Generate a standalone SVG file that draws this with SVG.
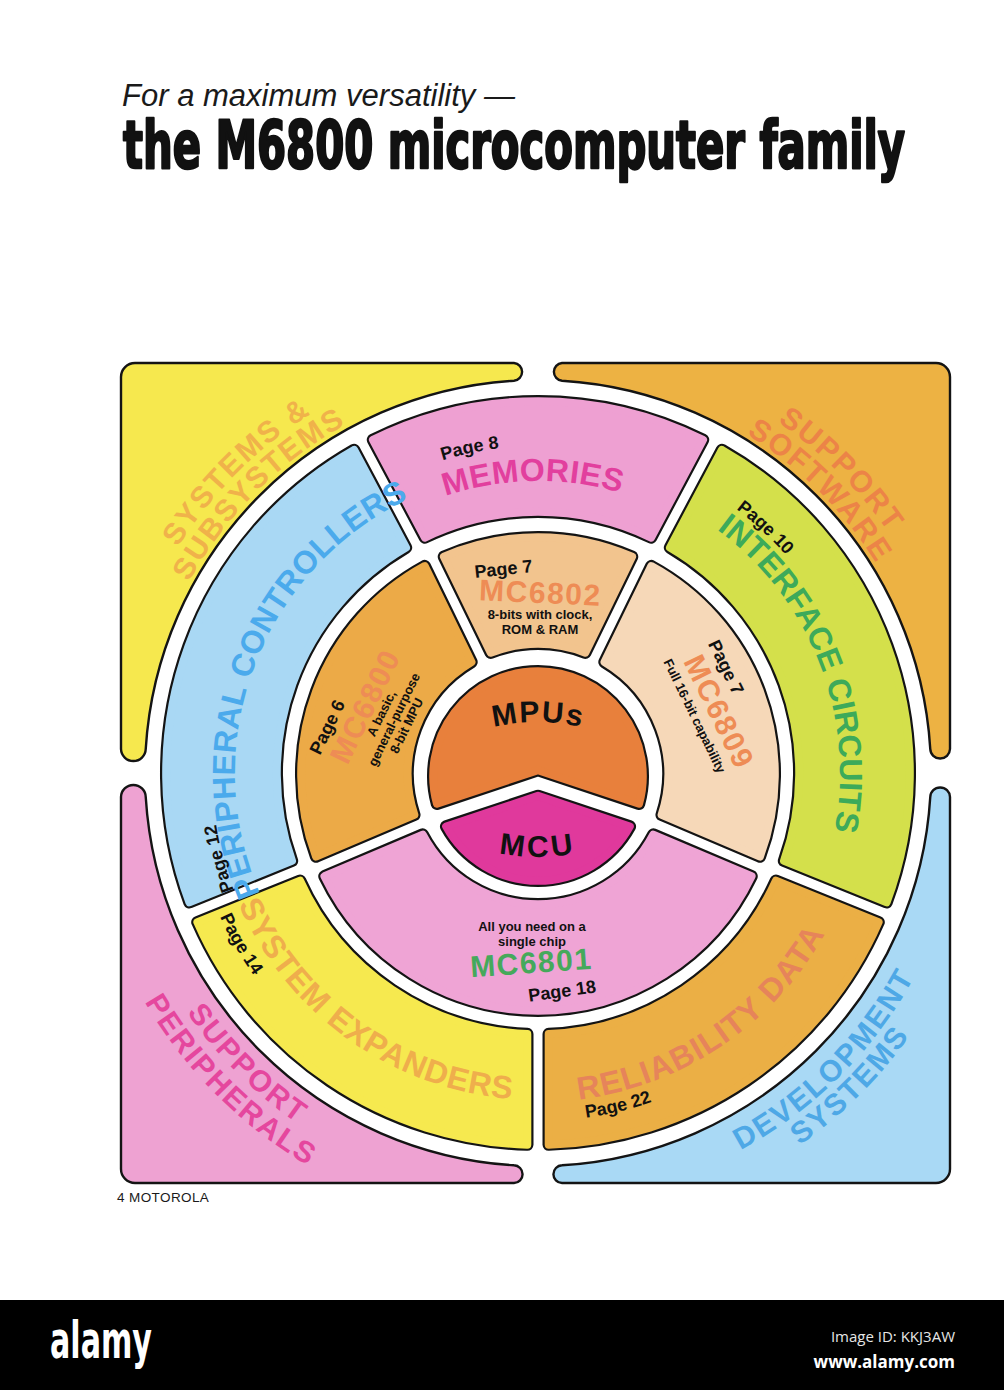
<svg xmlns="http://www.w3.org/2000/svg" width="1004" height="1390" viewBox="0 0 1004 1390">
<style>
text{font-family:"Liberation Sans",Arial,Helvetica,sans-serif}
.o{fill:#141414;stroke:#141414;stroke-width:12.4;stroke-linejoin:round}
.f{stroke-width:8;stroke-linejoin:round}
.c{stroke:#141414;stroke-width:2.4;stroke-linejoin:round}
.rl{font-weight:bold;font-size:32px}
.cl{font-weight:bold;font-size:30px;letter-spacing:2px}
.pg{font-weight:bold;font-size:18px;fill:#111}
.sm{font-weight:bold;font-size:13px;fill:#111}
.mc{font-weight:bold;font-size:30px;letter-spacing:1.5px;fill:#EE8C55}
.ctr{font-weight:bold;font-size:30px;fill:#111}
</style>
<defs>
<path id="tMem" d="M 346.4,552.6 A 292 292 0 0 1 721.8,546.1"/>
<path id="tPg8" d="M 323.5,526.2 A 327 327 0 0 1 743.8,518.9"/>
<path id="tInt" d="M 583.7,474.5 A 302 302 0 0 1 773.7,961.8"/>
<path id="tPg10" d="M 595.3,448 A 330 330 0 0 1 790.8,985.1"/>
<path id="tPer" d="M 304.5,966.1 A 303 303 0 0 1 487.5,474.2"/>
<path id="tPg12" d="M 288.3,982.6 A 326 326 0 0 1 481.4,452"/>
<path id="tRel" d="M 393.8,1068.7 A 329 329 0 0 0 866.2,750"/>
<path id="tPg22" d="M 385.4,1085.8 A 348 348 0 0 0 885.2,748.7"/>
<path id="tSys" d="M 212.4,742.2 A 327 327 0 0 0 674.1,1070.3"/>
<path id="tPg14" d="M 190.5,740.2 A 349 349 0 0 0 683.3,1090.3"/>
<path id="tSy1" d="M 127.5,883 A 425 425 0 0 1 648,362.5"/>
<path id="tSy2" d="M 153.6,876 A 398 398 0 0 1 641,388.6"/>
<path id="tSw1" d="M 428,362.5 A 425 425 0 0 1 948.5,883"/>
<path id="tSw2" d="M 435,388.6 A 398 398 0 0 1 922.4,876"/>
<path id="tSp1" d="M 127.5,663 A 425 425 0 0 0 648,1183.5"/>
<path id="tSp2" d="M 98.5,655.2 A 455 455 0 0 0 655.8,1212.5"/>
<path id="tDv1" d="M 427.2,1186.4 A 428 428 0 0 0 951.4,662.2"/>
<path id="tDv2" d="M 420.2,1212.5 A 455 455 0 0 0 977.5,655.2"/>
<path id="tMPU" d="M 443,747.5 A 190 190 0 0 1 633,747.5"/>
<path id="tMCU" d="M 364.8,757 A 200 200 0 0 0 711.2,757"/>
</defs>
<rect width="1004" height="1390" fill="#ffffff"/>

<g id="title">
<text x="122" y="106" font-size="31" font-style="italic" fill="#1a1a1a" textLength="393" lengthAdjust="spacingAndGlyphs">For a maximum versatility —</text>
<text x="123" y="168" style="font-family:'DejaVu Sans Condensed','DejaVu Sans',sans-serif;font-weight:bold;font-size:66px" fill="#111" stroke="#111" stroke-width="2.5" stroke-linejoin="round" textLength="782" lengthAdjust="spacingAndGlyphs">the M6800 microcomputer family</text>
</g>

<g id="systems-subsystems">
<path class="c" fill="#F6E84E" d="M 135,363 H 514 A 8.9 8.9 0 0 1 514,380.73 A 393 393 0 0 0 145.73,749 A 12.37 12.37 0 0 1 121,749 V 377 A 14 14 0 0 1 135,363 Z"/>
<text class="cl" fill="#F0B24A"><textPath href="#tSy1" startOffset="50%" text-anchor="middle">SYSTEMS &amp;</textPath></text>
<text class="cl" fill="#F0B24A"><textPath href="#tSy2" startOffset="50%" text-anchor="middle">SUBSYSTEMS</textPath></text>
</g>

<g id="support-software">
<path class="c" fill="#EDB243" d="M 562,363 H 936 A 14 14 0 0 1 950,377 V 749 A 9.87 9.87 0 0 1 930.27,749 A 393 393 0 0 0 562,380.73 A 8.9 8.9 0 0 1 562,363 Z"/>
<text class="cl" fill="#EC8447"><textPath href="#tSw1" startOffset="50%" text-anchor="middle">SUPPORT</textPath></text>
<text class="cl" fill="#EC8447"><textPath href="#tSw2" startOffset="50%" text-anchor="middle">SOFTWARE</textPath></text>
</g>

<g id="support-peripherals">
<path class="c" fill="#EEA2D2" d="M 121,797 A 12.37 12.37 0 0 1 145.73,797 A 393 393 0 0 0 514,1165.27 A 8.87 8.87 0 0 1 514,1183 H 135 A 14 14 0 0 1 121,1169 Z"/>
<text class="cl" fill="#E5479E"><textPath href="#tSp1" startOffset="50%" text-anchor="middle">SUPPORT</textPath></text>
<text class="cl" fill="#E5479E"><textPath href="#tSp2" startOffset="50%" text-anchor="middle">PERIPHERALS</textPath></text>
</g>

<g id="development-systems">
<path class="c" fill="#A9D9F5" d="M 950,797 V 1169 A 14 14 0 0 1 936,1183 H 562 A 8.87 8.87 0 0 1 562,1165.27 A 393 393 0 0 0 930.27,797 A 9.87 9.87 0 0 1 950,797 Z"/>
<text class="cl" fill="#4EA8E6"><textPath href="#tDv1" startOffset="50%" text-anchor="middle">DEVELOPMENT</textPath></text>
<text class="cl" fill="#4EA8E6"><textPath href="#tDv2" startOffset="50%" text-anchor="middle">SYSTEMS</textPath></text>
</g>

<g id="memories">
<path class="o" d="M 372.96,439.83 A 371.8 371.8 0 0 1 703.04,439.83 L 651.07,537.53 A 261.2 261.2 0 0 0 424.93,537.53 Z"/>
<path class="f" style="fill:#EEA0D2;stroke:#EEA0D2" d="M 372.96,439.83 A 371.8 371.8 0 0 1 703.04,439.83 L 651.07,537.53 A 261.2 261.2 0 0 0 424.93,537.53 Z"/>
<text class="pg"><textPath href="#tPg8" startOffset="137">Page 8</textPath></text>
<text class="rl" fill="#E23F9E" letter-spacing="0.5"><textPath href="#tMem" startOffset="50%" text-anchor="middle">MEMORIES</textPath></text>
</g>

<g id="interface-circuits">
<path class="o" d="M 721.93,449.87 A 371.8 371.8 0 0 1 886.6,902.31 L 784,860.87 A 261.2 261.2 0 0 0 669.98,547.58 Z"/>
<path class="f" style="fill:#D4E04B;stroke:#D4E04B" d="M 721.93,449.87 A 371.8 371.8 0 0 1 886.6,902.31 L 784,860.87 A 261.2 261.2 0 0 0 669.98,547.58 Z"/>
<text class="pg"><textPath href="#tPg10" startOffset="155">Page 10</textPath></text>
<text class="rl" fill="#3DAA5A" font-size="31"><textPath href="#tInt" startOffset="50%" text-anchor="middle">INTERFACE CIRCUITS</textPath></text>
</g>

<g id="reliability-data">
<path class="o" d="M 878.61,922.13 A 371.8 371.8 0 0 1 548.7,1144.65 L 548.7,1033.98 A 261.2 261.2 0 0 0 775.95,880.67 Z"/>
<path class="f" style="fill:#EBAF45;stroke:#EBAF45" d="M 878.61,922.13 A 371.8 371.8 0 0 1 548.7,1144.65 L 548.7,1033.98 A 261.2 261.2 0 0 0 775.95,880.67 Z"/>
<text class="rl" fill="#E6845A" letter-spacing="1.2"><textPath href="#tRel" startOffset="50%" text-anchor="middle">RELIABILITY DATA</textPath></text>
<text class="pg"><textPath href="#tPg22" startOffset="206">Page 22</textPath></text>
</g>

<g id="system-expanders">
<path class="o" d="M 197.39,922.13 A 371.8 371.8 0 0 0 527.3,1144.65 L 527.3,1033.98 A 261.2 261.2 0 0 1 300.05,880.67 Z"/>
<path class="f" style="fill:#F6E94F;stroke:#F6E94F" d="M 197.39,922.13 A 371.8 371.8 0 0 0 527.3,1144.65 L 527.3,1033.98 A 261.2 261.2 0 0 1 300.05,880.67 Z"/>
<text class="rl" fill="#EFAE4C" letter-spacing="1"><textPath href="#tSys" startOffset="50%" text-anchor="middle">SYSTEM EXPANDERS</textPath></text>
<text class="pg"><textPath href="#tPg14" startOffset="181">Page 14</textPath></text>
</g>

<g id="peripheral-controllers">
<path class="o" d="M 354.07,449.87 A 371.8 371.8 0 0 0 189.4,902.31 L 292,860.87 A 261.2 261.2 0 0 1 406.02,547.58 Z"/>
<path class="f" style="fill:#A9D8F4;stroke:#A9D8F4" d="M 354.07,449.87 A 371.8 371.8 0 0 0 189.4,902.31 L 292,860.87 A 261.2 261.2 0 0 1 406.02,547.58 Z"/>
<text class="rl" fill="#4BAAEC" font-size="29" letter-spacing="0.4"><textPath href="#tPer" startOffset="50.2%" text-anchor="middle">PERIPHERAL CONTROLLERS</textPath></text>
<text class="pg"><textPath href="#tPg12" startOffset="108">Page 12</textPath></text>
</g>

<g id="mc6802">
<path class="o" d="M 443.92,556.69 A 236.8 236.8 0 0 1 632.08,556.69 L 585.28,652.68 A 130.2 130.2 0 0 0 490.72,652.68 Z"/>
<path class="f" style="fill:#F2C48E;stroke:#F2C48E" d="M 443.92,556.69 A 236.8 236.8 0 0 1 632.08,556.69 L 585.28,652.68 A 130.2 130.2 0 0 0 490.72,652.68 Z"/>
<text class="pg" x="504" y="575" text-anchor="middle" transform="rotate(-6 504 575)">Page 7</text>
<text class="mc" x="540" y="603" text-anchor="middle" transform="rotate(2.5 540 603)">MC6802</text>
<text class="sm" x="540" y="619" text-anchor="middle">8-bits with clock,</text>
<text class="sm" x="540" y="634" text-anchor="middle">ROM &amp; RAM</text>
</g>

<g id="mc6809">
<path class="o" d="M 651.33,566.07 A 236.8 236.8 0 0 1 759.95,856.57 L 661.64,814.84 A 130.2 130.2 0 0 0 604.51,662.05 Z"/>
<path class="f" style="fill:#F6D8B8;stroke:#F6D8B8" d="M 651.33,566.07 A 236.8 236.8 0 0 1 759.95,856.57 L 661.64,814.84 A 130.2 130.2 0 0 0 604.51,662.05 Z"/>
<g transform="rotate(64)">
<text class="pg" x="918" y="-354" text-anchor="middle">Page 7</text>
<text class="mc" x="955" y="-324" text-anchor="middle">MC6809</text>
<text class="sm" x="948" y="-306" text-anchor="middle">Full 16-bit capability</text>
</g>
</g>

<g id="mc6801">
<path class="o" d="M 751.57,876.27 A 236.8 236.8 0 0 1 324.43,876.27 L 422.73,834.56 A 130.2 130.2 0 0 0 653.27,834.56 Z"/>
<path class="f" style="fill:#EFA4D5;stroke:#EFA4D5" d="M 751.57,876.27 A 236.8 236.8 0 0 1 324.43,876.27 L 422.73,834.56 A 130.2 130.2 0 0 0 653.27,834.56 Z"/>
<text class="sm" x="532" y="931" text-anchor="middle">All you need on a</text>
<text class="sm" x="532" y="946" text-anchor="middle">single chip</text>
<text class="mc" x="532" y="973" text-anchor="middle" style="fill:#45A95B" transform="rotate(-4 532 973)">MC6801</text>
<text class="pg" x="563" y="997" text-anchor="middle" transform="rotate(-8 563 997)">Page 18</text>
</g>

<g id="mc6800">
<path class="o" d="M 424.67,566.07 A 236.8 236.8 0 0 0 316.05,856.57 L 414.36,814.84 A 130.2 130.2 0 0 1 471.49,662.05 Z"/>
<path class="f" style="fill:#ECAA47;stroke:#ECAA47" d="M 424.67,566.07 A 236.8 236.8 0 0 0 316.05,856.57 L 414.36,814.84 A 130.2 130.2 0 0 1 471.49,662.05 Z"/>
<g transform="rotate(-64)">
<text class="pg" x="-539" y="619">Page 6</text>
<text class="mc" x="-536" y="648">MC6800</text>
<text class="sm" x="-474" y="660" text-anchor="middle">A basic,</text>
<text class="sm" x="-474" y="674" text-anchor="middle">general-purpose</text>
<text class="sm" x="-474" y="688" text-anchor="middle">8-bit MPU</text>
</g>
</g>

<g id="mpus">
<path class="o" d="M 436.94,803.76 A 104.8 104.8 0 1 1 639.06,803.76 L 538,770.14 Z"/>
<path class="f" style="fill:#E8803C;stroke:#E8803C" d="M 436.94,803.76 A 104.8 104.8 0 1 1 639.06,803.76 L 538,770.14 Z"/>
<text class="ctr" letter-spacing="1.5"><textPath href="#tMPU" startOffset="50%" text-anchor="middle">MPUs</textPath></text>
</g>

<g id="mcu">
<path class="o" d="M 538,795.86 L 629.87,826.43 A 104.8 104.8 0 0 1 446.13,826.43 Z"/>
<path class="f" style="fill:#E0399C;stroke:#E0399C" d="M 538,795.86 L 629.87,826.43 A 104.8 104.8 0 0 1 446.13,826.43 Z"/>
<text class="ctr" letter-spacing="3.5"><textPath href="#tMCU" startOffset="50%" text-anchor="middle">MCU</textPath></text>
</g>

<g id="connectors"></g>

<text x="117" y="1202" font-size="13.5" fill="#1a1a1a" letter-spacing="0.4">4 MOTOROLA</text>

<g id="footer-bar">
<rect x="0" y="1300" width="1004" height="90" fill="#000"/>
<text x="50" y="1358" style="font-family:'DejaVu Sans Condensed','DejaVu Sans',sans-serif;font-weight:bold;font-size:52px" fill="#fff" textLength="102" lengthAdjust="spacingAndGlyphs">alamy</text>
<text x="955" y="1342" text-anchor="end" style="font-family:'Open Sans','Liberation Sans',sans-serif;font-size:15px" fill="#e6e6e6">Image ID: KKJ3AW</text>
<text x="955" y="1368" text-anchor="end" style="font-family:'Open Sans','Liberation Sans',sans-serif;font-size:17px;font-weight:bold" fill="#fff">www.alamy.com</text>
</g>
</svg>
